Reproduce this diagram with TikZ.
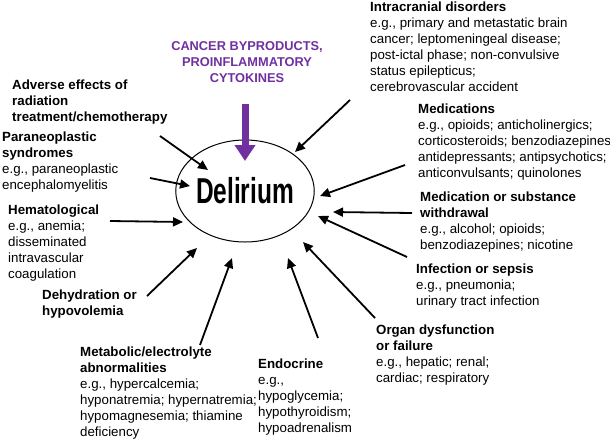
\documentclass[tikz,border=0pt]{standalone}
\usepackage{fontspec}
\setmainfont{Liberation Sans}
\usetikzlibrary{arrows.meta,shapes.geometric}
\definecolor{pur}{HTML}{7030A0}
\begin{document}
\begin{tikzpicture}[x=1pt,y=-1pt,
 txt/.style={anchor=north west,inner sep=0pt,align=left,font=\fontsize{13.3}{16}\selectfont},
 arr/.style={line width=1.8pt,-{Triangle[length=10pt,width=9pt]}}]
\useasboundingbox (0,0) rectangle (610,440);
\node[draw,ellipse,line width=1pt,minimum width=120pt,minimum height=102pt,inner sep=0] (del) at (245,191) {\fontsize{36}{36}\selectfont\bfseries\addfontfeature{FakeStretch=0.68}Delirium};
\node[inner sep=0,align=center,text=pur,font=\fontsize{12.8}{16}\selectfont\bfseries] (can) at (247,62) {CANCER BYPRODUCTS,\\PROINFLAMMATORY\\CYTOKINES};
\coordinate (pa) at (245,104); \coordinate (pb) at (245,161);
\draw[pur,line width=7pt,-{Triangle[length=16pt,width=20pt]}] (pa) -- (pb);
\node[txt] (adv) at (12,80) {\textbf{Adverse effects of}\\\textbf{radiation}\\\textbf{treatment/chemotherapy}};
\node[txt] (par) at (2,132) {\textbf{Paraneoplastic}\\\textbf{syndromes}\\e.g., paraneoplastic\\encephalomyelitis};
\node[txt] (hem) at (8,205) {\textbf{Hematological}\\e.g., anemia;\\disseminated\\intravascular\\coagulation};
\node[txt] (deh) at (42,290) {\textbf{Dehydration or}\\\textbf{hypovolemia}};
\node[txt] (met) at (80,347) {\textbf{Metabolic/electrolyte}\\\textbf{abnormalities}\\e.g., hypercalcemia;\\hyponatremia; hypernatremia;\\hypomagnesemia; thiamine\\deficiency};
\node[txt] (end) at (258,359) {\textbf{Endocrine}\\e.g.,\\hypoglycemia;\\hypothyroidism;\\hypoadrenalism};
\node[txt] (org) at (376,325) {\textbf{Organ dysfunction}\\\textbf{or failure}\\e.g., hepatic; renal;\\cardiac; respiratory};
\node[txt] (inf) at (416,264) {\textbf{Infection or sepsis}\\e.g., pneumonia;\\urinary tract infection};
\node[txt] (wd) at (420,192) {\textbf{Medication or substance}\\\textbf{withdrawal}\\e.g., alcohol; opioids;\\benzodiazepines; nicotine};
\node[txt] (med) at (418,104) {\textbf{Medications}\\e.g., opioids; anticholinergics;\\corticosteroids; benzodiazepines;\\antidepressants; antipsychotics;\\anticonvulsants; quinolones};
\node[txt] (ic) at (370,2) {\textbf{Intracranial disorders}\\e.g., primary and metastatic brain\\cancer; leptomeningeal disease;\\post-ictal phase; non-convulsive\\status epilepticus;\\cerebrovascular accident};
\coordinate (a1) at (160,136); \coordinate (b1) at (208,170);
\coordinate (a2) at (150,178); \coordinate (b2) at (190,186);
\coordinate (a3) at (110,221); \coordinate (b3) at (183,222);
\coordinate (a4) at (147,296); \coordinate (b4) at (197,248);
\coordinate (a5) at (200,345); \coordinate (b5) at (232,258);
\coordinate (a6) at (318,338); \coordinate (b6) at (288,258);
\coordinate (a7) at (375,318); \coordinate (b7) at (303,242);
\coordinate (a8) at (407,257); \coordinate (b8) at (318,216);
\coordinate (a9) at (412,213); \coordinate (b9) at (333,212);
\coordinate (a10) at (405,165); \coordinate (b10) at (320,196);
\coordinate (a11) at (350,100); \coordinate (b11) at (295,152);
\foreach \i in {1,...,11}{\draw[arr] (a\i) -- (b\i);}
\end{tikzpicture}
\end{document}
